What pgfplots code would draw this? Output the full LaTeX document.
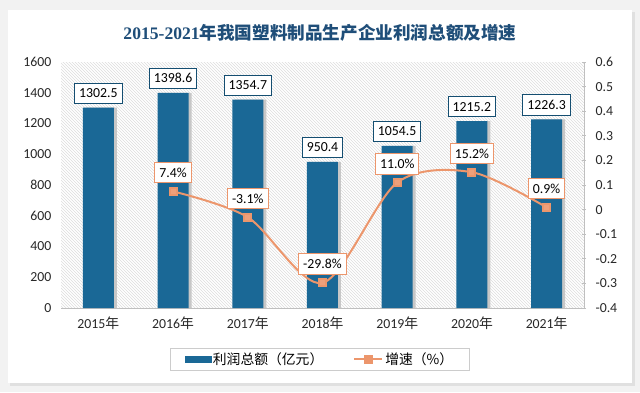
\documentclass[border=0pt]{standalone}
\usepackage{pgfplots}
\pgfplotsset{compat=1.18}
\usetikzlibrary{patterns}
\usepackage{fontspec}
\setmainfont{Carlito}
\newfontfamily\cjk{Noto Sans CJK SC}
\newfontfamily\tserif{Liberation Serif}
\definecolor{barblue}{RGB}{26,104,150}
\definecolor{lineorange}{RGB}{236,150,108}
\definecolor{titleblue}{RGB}{31,78,121}
\definecolor{axisgray}{RGB}{191,191,191}
\definecolor{txt}{RGB}{40,40,40}
\newcommand\fs{\fontsize{13.8pt}{16pt}\selectfont}

\begin{document}
\begin{tikzpicture}
\fill[black!5] (0pt,0pt) rectangle (640pt,392pt);
\fill[black!12] (10pt,6pt) rectangle (635pt,380pt);
\fill[white] (8pt,9pt) rectangle (632pt,382pt);
\node[font=\fontsize{17.6pt}{20pt}\selectfont\bfseries, text=titleblue] at (320pt,359pt) {{\tserif\bfseries 2015-2021}{\cjk\bfseries 年我国塑料制品生产企业利润总额及增速}};

\begin{axis}[
 at={(61pt,84pt)}, anchor=south west, scale only axis, width=523pt, height=246pt,
 xmin=-0.5, xmax=6.5, ymin=0, ymax=1600,
 ytick={0,200,...,1600},
 /pgf/number format/1000 sep={},
 xtick={0,...,6},
 xticklabels={2015{\cjk 年},2016{\cjk 年},2017{\cjk 年},2018{\cjk 年},2019{\cjk 年},2020{\cjk 年},2021{\cjk 年}},
 axis x line*=bottom, axis y line*=left,
 y axis line style={draw=none},
 x axis line style={draw=axisgray, line width=0.8pt},
 major tick length=0pt,
 tick label style={font=\fs, text=txt},
 /pgf/number format/assume math mode=true,
 yticklabel style={xshift=-6pt},
 xticklabel style={yshift=-5pt},
 axis background/.style={preaction={fill=white}, pattern=north west lines, pattern color=black!13},
 clip=false,
]
\addplot[ybar, bar width=31pt, bar shift=3pt, fill=black!22, draw=none, forget plot]
 coordinates {(0,1302.5) (1,1398.6) (2,1354.7) (3,950.4) (4,1054.5) (5,1215.2) (6,1226.3)};
\addplot[ybar, bar width=31pt, bar shift=0pt, fill=barblue, draw=none,
 nodes near coords,
 nodes near coords style={font=\fs, text=black, fill=white, draw=barblue!75!black, line width=0.9pt,
   inner xsep=4.5pt, inner ysep=5.5pt, anchor=south, yshift=4pt,
   /pgf/number format/fixed, /pgf/number format/fixed zerofill,
   /pgf/number format/precision=1, /pgf/number format/1000 sep={}}]
 coordinates {(0,1302.5) (1,1398.6) (2,1354.7) (3,950.4) (4,1054.5) (5,1215.2) (6,1226.3)};
\end{axis}

\begin{axis}[
 at={(61pt,84pt)}, anchor=south west, scale only axis, width=523pt, height=246pt,
 xmin=-0.5, xmax=6.5, ymin=-0.4, ymax=0.6,
 ytick={-0.4,-0.3,-0.2,-0.1,0,0.1,0.2,0.3,0.4,0.5,0.6},
 yticklabels={-0.4,-0.3,-0.2,-0.1,0,0.1,0.2,0.3,0.4,0.5,0.6},
 axis y line*=right, axis x line=none,
 y axis line style={draw=axisgray, line width=0.8pt},
 ytick style={draw=axisgray, line width=0.8pt},
 major tick length=4pt, tick align=center,
 tick label style={font=\fs, text=txt},
 yticklabel style={xshift=6pt},
 clip=false,
 legend style={at={(0.495,-0.209)}, anchor=center, draw=black!20, font=\fs,
   legend columns=2, inner xsep=14pt, inner ysep=2.5pt,
   /tikz/every even column/.append style={column sep=28pt}},
]
\addlegendimage{legend image code/.code={\fill[barblue] (0pt,-3pt) rectangle (26pt,3pt);}}
\addlegendentry{\cjk 利润总额（亿元）}
\addplot[lineorange, line width=2pt, smooth, mark=square*, mark size=3.5pt,
 mark options={fill=lineorange!90!white, draw=lineorange},
 legend image code/.code={\draw[lineorange, line width=2pt] (0pt,0pt)--(28pt,0pt);
   \fill[lineorange] (10.5pt,-3.5pt) rectangle (17.5pt,3.5pt);},
 point meta=explicit symbolic, nodes near coords,
 nodes near coords style={font=\fs, text=black, fill=white, draw=lineorange, line width=0.9pt,
   inner xsep=4.5pt, inner ysep=5.5pt, anchor=south, yshift=8pt}]
 coordinates {(1,0.074) [7.4\%] (2,-0.031) [-3.1\%] (3,-0.298) [-29.8\%] (4,0.110) [11.0\%] (5,0.152) [15.2\%] (6,0.009) [0.9\%]};
\addlegendentry{\cjk 增速（\%）}
\end{axis}
\end{tikzpicture}
\end{document}
